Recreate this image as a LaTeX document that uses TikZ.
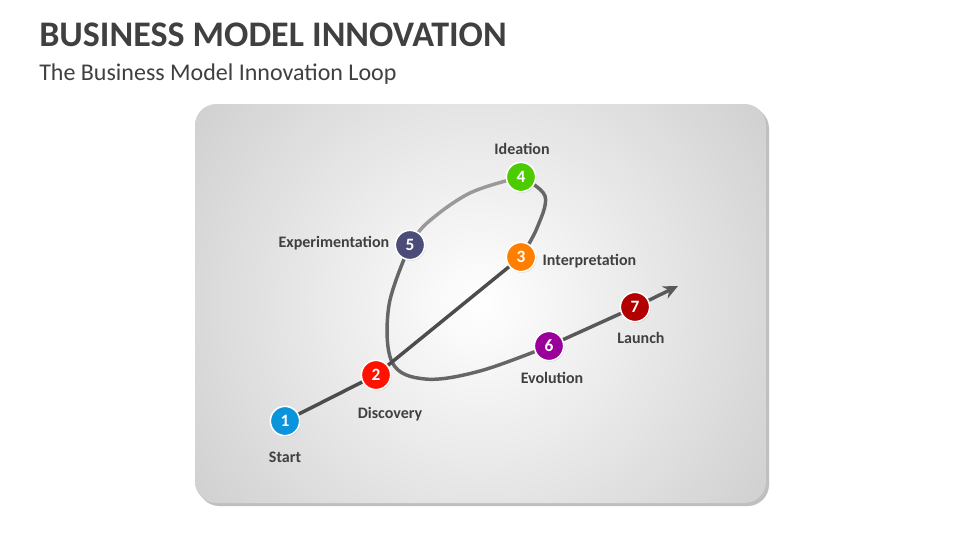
\documentclass[tikz,border=0pt]{standalone}
\usepackage{fontspec}
\setmainfont{Carlito}
\usetikzlibrary{shadows,arrows.meta}
\begin{document}
\begin{tikzpicture}[x=0.75pt,y=-0.75pt,
  step circle/.style={circle,draw=white,line width=1.2pt,minimum size=22pt,inner sep=0pt,font=\bfseries\fontsize{13}{13}\selectfont,text=white,drop shadow={opacity=0.35,shadow xshift=0.6pt,shadow yshift=-0.8pt}},
  lbl/.style={font=\bfseries\fontsize{12}{14}\selectfont,text=black!75}]
\useasboundingbox (0,0) rectangle (960,540);
\fill[white] (0,0) rectangle (960,540);
\node[anchor=west,font=\bfseries\fontsize{27}{30}\selectfont,text=black!75,inner sep=0pt] (title) at (39,35) {BUSINESS MODEL INNOVATION};
\node[anchor=west,font=\fontsize{18}{21}\selectfont,text=black!75,inner sep=0pt] (sub) at (39,74) {The Business Model Innovation Loop};
\fill[black!25,rounded corners=16pt] (198,107) rectangle (769,506);
\begin{scope}
\clip[rounded corners=16pt] (195,104) rectangle (766,503);
\shade[inner color=white,outer color=black!24] (480,303) circle (340pt);
\end{scope}
\draw[black!60,line width=2.6pt] plot[smooth,tension=0.6] coordinates {(521,257)(537,228)(545,196)(521,177)};
\draw[black!40,line width=2.6pt] plot[smooth,tension=0.6] coordinates {(521,177)(470,193)(427,223)(410,245)};
\draw[black!60,line width=2.6pt] plot[smooth,tension=0.6] coordinates {(410,245)(389,305)(392,362)(425,379)(480,371)(549,346)};
\draw[black!70,line width=2.6pt] (285,421) -- (376,375) -- (521,257);
\draw[black!65,line width=2.6pt,-{Stealth[length=11pt,width=10pt]}] (549,346) -- (635,307) -- (678,286);
\node[step circle,fill=cyan!80!blue] (n1) at (285,421) {1};
\node[step circle,fill=red!85!orange] (n2) at (376,375) {2};
\node[step circle,fill=orange] (n3) at (521,257) {3};
\node[step circle,fill=green!50!lime!80!black] (n4) at (521,177) {4};
\node[step circle,fill=blue!25!black!70] (n5) at (410,245) {5};
\node[step circle,fill=violet!80!magenta] (n6) at (549,346) {6};
\node[step circle,fill=red!70!black] (n7) at (635,307) {7};
\node[lbl] (l1) at (285,457) {Start};
\node[lbl] (l2) at (390,414) {Discovery};
\node[lbl,anchor=west] (l3) at (538,261) {Interpretation};
\node[lbl] (l4) at (522,149) {Ideation};
\node[lbl,anchor=east] (l5) at (394,243) {Experimentation};
\node[lbl] (l6) at (552,378) {Evolution};
\node[lbl] (l7) at (641,338) {Launch};
\end{tikzpicture}
\end{document}
